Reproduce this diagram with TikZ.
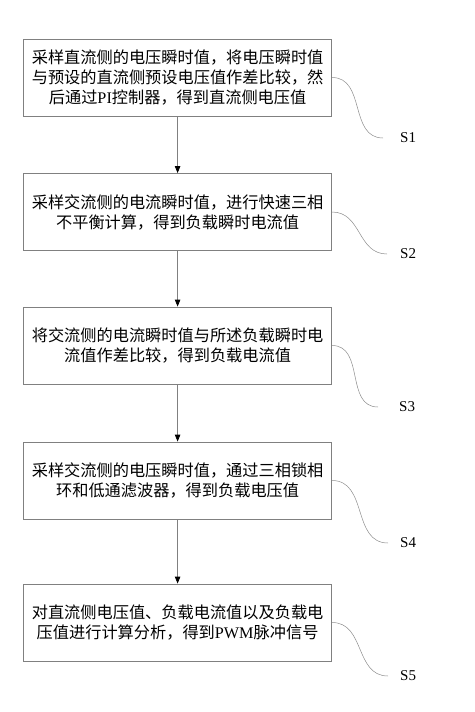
\documentclass[tikz,border=0pt]{standalone}
\usepackage{fontspec}
\setmainfont{Liberation Serif}
\newfontfamily\cjk{Noto Sans CJK SC}
\usetikzlibrary{arrows.meta}
\begin{document}
\begin{tikzpicture}[x=1pt, y=-1pt,
step box/.style={draw=gray, line width=.8pt, minimum width=308pt, minimum height=77pt, inner sep=0, align=center, font=\cjk\fontsize{16.2}{20}\selectfont},
flow/.style={draw=gray, line width=.8pt, -{Triangle[length=7pt, width=5.5pt, color=black]}},
leader/.style={draw=gray!90, line width=.5pt},
step label/.style={inner sep=0, anchor=west, font=\fontsize{15}{15}\selectfont}]
\useasboundingbox (0,0) rectangle (474,712); %%%%%%% SIZE OF THE PAGE
%%%%%%%%%%%%%%%%%%%%%%% BOXES %%%%%%%%%%%%%%%%%%%%%%%%%%%
\node[step box] (B1) at (177.6,77.5) {采样直流侧的电压瞬时值，将电压瞬时值\\与预设的直流侧预设电压值作差比较，然\\后通过{\rmfamily PI}控制器，得到直流侧电压值};
\node[step box] (B2) at (177.6,212) {采样交流侧的电流瞬时值，进行快速三相\\不平衡计算，得到负载瞬时电流值};
\node[step box] (B3) at (177.6,345.5) {将交流侧的电流瞬时值与所述负载瞬时电\\流值作差比较，得到负载电流值};
\node[step box] (B4) at (177.6,480.5) {采样交流侧的电压瞬时值，通过三相锁相\\环和低通滤波器，得到负载电压值};
\node[step box] (B5) at (177.6,622.5) {对直流侧电压值、负载电流值以及负载电\\压值进行计算分析，得到{\rmfamily PWM}脉冲信号};
%%%%%%%%%%%%%%%%%%%%%%% ARROWS %%%%%%%%%%%%%%%%%%%%%%%%%%%
\draw[flow] (B1)--(B2);
\draw[flow] (B2)--(B3);
\draw[flow] (B3)--(B4);
\draw[flow] (B4)--(B5);
%%%%%%%%%%%%%%%%%%%%%%% STEP LABELS %%%%%%%%%%%%%%%%%%%%%%%%%%%
\node[step label] (S1) at (400,138) {S1};
\node[step label] (S2) at (400,254) {S2};
\node[step label] (S3) at (399,407) {S3};
\node[step label] (S4) at (400,543) {S4};
\node[step label] (S5) at (400,676) {S5};
\draw[leader] (B1.east) to[out=0, in=180, looseness=1.1] ([xshift=-17pt]S1.west);
\draw[leader] (B2.east) to[out=0, in=180, looseness=1.1] ([xshift=-13pt]S2.west);
\draw[leader] (B3.east) to[out=0, in=180, looseness=1.1] ([xshift=-21pt]S3.west);
\draw[leader] (B4.east) to[out=0, in=180, looseness=1.1] ([xshift=-12pt]S4.west);
\draw[leader] (B5.east) to[out=0, in=180, looseness=1.1] ([xshift=-12pt]S5.west);
\end{tikzpicture}
\end{document}
